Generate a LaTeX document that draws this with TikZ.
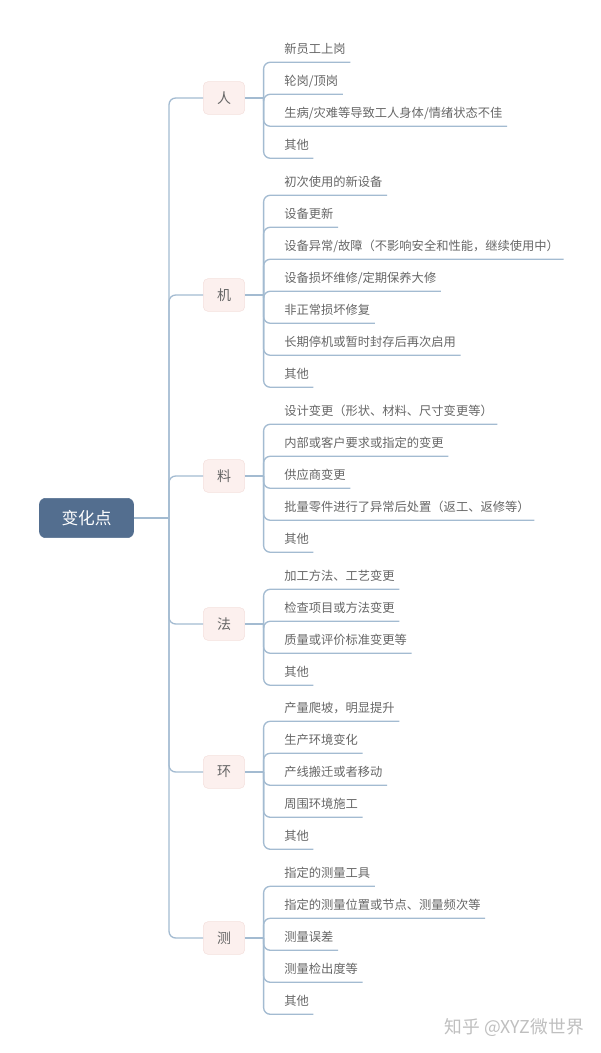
\documentclass[tikz,border=0pt]{standalone}
\usepackage{fontspec}
\setmainfont{Noto Sans CJK SC}
\definecolor{rootblue}{HTML}{536E8F}
\definecolor{linkblue}{HTML}{A3BBD1}
\definecolor{catfill}{HTML}{FCF0EE}
\definecolor{catedge}{HTML}{F4E0DD}
\definecolor{inkgrey}{HTML}{666666}
\tikzset{
    rootbox/.style={fill=rootblue, draw=rootblue, rounded corners=4.5pt, text=white, font=\fontsize{12.5pt}{15pt}\selectfont, minimum width=70.5pt, minimum height=29.5pt, inner sep=0pt},
    catbox/.style={fill=catfill, draw=catedge, rounded corners=3.5pt, text=inkgrey, font=\fontsize{10.5pt}{12pt}\selectfont, minimum width=31pt, minimum height=24.5pt, inner sep=0pt},
    leafbox/.style={anchor=west, text=inkgrey, font=\fontsize{9.2pt}{11pt}\selectfont, minimum height=19.5pt, inner ysep=0pt, inner xsep=3.3pt},
    linkline/.style={draw=linkblue, line width=1pt},
    bendline/.style={linkline, rounded corners=5pt},
}
% one group of leaves hanging on a category node
\newcommand{\leafset}[2]{
    \coordinate (#1spine) at ([xshift=14pt]#1.east);
    \draw[linkline] (#1.east) -- (#1spine);
    \foreach \y/\txt [count=\i] in {#2} {
        \node[leafbox] (#1\i) at (279.6,\y+1) {\txt};
        \draw[bendline] (#1spine) |- (#1\i.south east);
    }
}
\begin{document}
\begin{tikzpicture}[x=0.75pt, y=-0.75pt]
    \useasboundingbox (0,0) rectangle (600,1053);
    \node[rootbox] (center) at (86.5,518) {变化点};
    \coordinate (mainspine) at (169,518);
    \draw[linkline] (center.east) -- (mainspine);
    \foreach \name/\y/\txt in {ren/98/人, ji/295/机, liao/476/料, fa/624/法, huan/772/环, ce/938/测} {
        \node[catbox] (\name) at (224,\y) {\txt};
        \draw[bendline] (mainspine) |- (\name.west);
    }
    \leafset{ren}{48/新员工上岗, 80/{轮岗/顶岗}, 112/{生病/灾难等导致工人身体/情绪状态不佳}, 144/其他}
    \leafset{ji}{181/初次使用的新设备, 213/设备更新, 245/{设备异常/故障（不影响安全和性能，继续使用中）}, 277/{设备损坏维修/定期保养大修}, 309/非正常损坏修复, 341/长期停机或暂时封存后再次启用, 373/其他}
    \leafset{liao}{410/设计变更（形状、材料、尺寸变更等）, 442/内部或客户要求或指定的变更, 474/供应商变更, 506/批量零件进行了异常后处置（返工、返修等）, 538/其他}
    \leafset{fa}{575/加工方法、工艺变更, 607/检查项目或方法变更, 639/质量或评价标准变更等, 671/其他}
    \leafset{huan}{707/产量爬坡，明显提升, 739/生产环境变化, 771/产线搬迁或者移动, 803/周围环境施工, 835/其他}
    \leafset{ce}{872/指定的测量工具, 904/指定的测量位置或节点、测量频次等, 936/测量误差, 968/测量检出度等, 1000/其他}
    \node[text=black!25, font=\fontsize{13.3pt}{15pt}\selectfont, anchor=east, inner sep=0pt] (mark) at (584,1028) {知乎 @XYZ微世界};
\end{tikzpicture}
\end{document}
